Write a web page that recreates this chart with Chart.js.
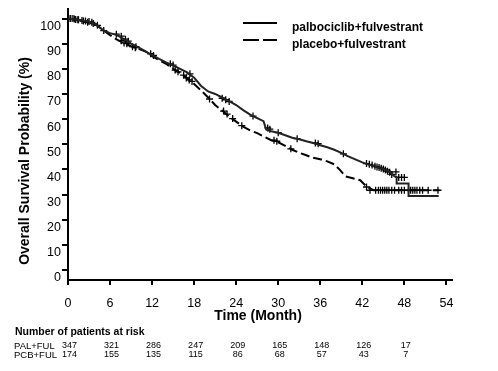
<!DOCTYPE html>
<html><head><meta charset="utf-8">
<script src="https://cdn.jsdelivr.net/npm/chart.js@4"></script>
<style>html,body{margin:0;padding:0;background:#fff}canvas{display:block}</style>
</head><body>
<canvas id="c" width="498" height="371"></canvas>
<script>
const seriesNames = ['palbociclib+fulvestrant', 'placebo+fulvestrant'];
const xTickValues = [0, 6, 12, 18, 24, 30, 36, 42, 48, 54];
const yTickValues = [0, 10, 20, 30, 40, 50, 60, 70, 80, 90, 100];

const palMonths = [0,1,2,3,4,5,6,7,8,9,10,11,12,13,14,15,16,17,18,19,20,21,22,23,24,25,26,27,27.9,28.3,29,30,31,32,33,34,35,36,37,38,39,40,41,42,43,44,45,46,46.6,46.9,46.9,48.6,48.6,52.9];
const palSurv = [100,99.6,99.2,98.8,97.6,95.4,94.2,93.4,91.8,90,88.6,87,85.5,84,82.6,81.4,80,78.6,76.5,73.2,71,70,68.6,67.2,65.6,63.6,61.8,60.4,59.2,55.8,55.2,54.6,53.6,52.6,52,51.2,50.5,49.6,48.8,47.8,46.6,45.2,44,42.8,41.8,41,40.2,38.8,37.2,37,34.4,34.4,29.4,29.4];

const pcbMonths = [0,1,2,3,4,5,6,7,8,9,10,11,12,13,14,15,16,17,18,19,20,21,22,23,24,25,26,27,28,29,30,31,32,33,34,35,36,37,38,38.8,39.6,40.5,41.7,42.6,43.6,53];
const pcbSurv = [100,99.5,99,98.3,97.5,95.5,93.4,91.6,90.2,89,88,87,85,83.5,82,80,78.4,76.2,74,71.4,68.6,65.6,63.4,61,59,57,55.5,54.4,53,51.6,50.8,49.4,47.8,46.6,45.6,44.6,44,43.2,42,39.8,37.2,36.6,35.7,33.2,31.7,31.7];

const palCensorMonths = [0.3,0.7,1.1,1.5,2.0,2.5,3.0,3.4,4.2,5.1,6.9,7.6,8.2,8.6,9.7,11.8,12.2,14.6,15.0,17.4,22.0,22.5,23.0,26.4,28.5,28.8,30.0,32.7,35.3,35.7,39.3,42.6,43.0,43.4,43.8,44.1,44.4,44.7,45.0,45.3,45.6,45.9,46.2,46.8,47.2,47.6,48.0];
const palCensorSurv = [100,100,99.6,99.5,99.2,99,98.8,98.5,97.3,95.2,93.8,93,91.8,91,88.8,86,85.3,82,81.5,78,68.3,67.7,67,61.2,56.5,56,54.6,52.2,50.5,50.2,46.2,42.3,42,41.7,41.2,41,40.8,40.5,40.2,39.8,39.3,38.9,38,39,36.8,36.8,36.8];

const pcbCensorMonths = [0.4,0.9,1.4,2.2,2.8,3.6,7.6,8.0,8.4,9.2,9.6,15.3,15.7,16.5,16.9,17.3,17.7,20.2,22.2,22.7,23.5,24.8,29.4,29.8,31.8,42.6,43.1,43.9,44.3,44.6,44.9,45.2,45.5,45.8,46.2,46.6,47.2,47.6,48.0,48.6,48.9,49.2,49.5,49.8,50.2,50.6,51.4,52.8];
const pcbCensorSurv = [100,99.8,99.5,99,98.5,98,91.2,90.3,90,88.8,88.4,79.5,78.8,77.5,76.4,75.6,75,68,63.2,62,60.2,57.4,51.6,51.2,48.2,33,31.7,31.7,31.7,31.7,31.7,31.7,31.7,31.7,31.7,31.7,31.7,31.7,31.7,31.7,31.7,31.7,31.7,31.7,31.7,31.7,31.7,31.7];

const riskMonths = [0, 6, 12, 18, 24, 30, 36, 42, 48];
const palRisk = [347, 321, 286, 247, 209, 165, 148, 126, 17];
const pcbRisk = [174, 155, 135, 115, 86, 68, 57, 43, 7];
const riskLabels = ['PAL+FUL', 'PCB+FUL'];

const zip = (xs, ys) => xs.map((x, i) => ({x: x, y: ys[i]}));
const FONT = 'Arial, "Liberation Sans", sans-serif';

const extras = {
  id: 'extras',
  afterDraw(chart) {
    const ctx = chart.ctx;
    const xs = chart.scales.x;
    ctx.save();
    ctx.fillStyle = '#000';
    // y title
    ctx.save();
    ctx.translate(25, 161);
    ctx.rotate(-Math.PI / 2);
    ctx.font = 'bold 14px ' + FONT;
    ctx.textAlign = 'center';
    ctx.textBaseline = 'middle';
    ctx.fillText('Overall Survival Probability (%)', 0, 0);
    ctx.restore();
    // x title
    ctx.font = 'bold 14px ' + FONT;
    ctx.textAlign = 'center';
    ctx.textBaseline = 'middle';
    ctx.fillText('Time (Month)', 258, 316);
    // legend
    ctx.strokeStyle = '#000';
    ctx.lineWidth = 2;
    ctx.beginPath(); ctx.moveTo(243, 23); ctx.lineTo(277, 23); ctx.stroke();
    ctx.setLineDash([16, 4]);
    ctx.beginPath(); ctx.moveTo(243, 40); ctx.lineTo(277, 40); ctx.stroke();
    ctx.setLineDash([]);
    ctx.font = 'bold 12px ' + FONT;
    ctx.textAlign = 'left';
    ctx.fillText(seriesNames[0], 292, 28);
    ctx.fillText(seriesNames[1], 292, 45);
    // risk table
    ctx.font = 'bold 10.5px ' + FONT;
    ctx.fillText('Number of patients at risk', 15, 332);
    ctx.font = '9.5px ' + FONT;
    ctx.fillText(riskLabels[0], 14, 346);
    ctx.fillText(riskLabels[1], 14, 355);
    ctx.font = '9px ' + FONT;
    ctx.textAlign = 'center';
    riskMonths.forEach((m, i) => {
      const px = xs.getPixelForValue(m);
      ctx.fillText(String(palRisk[i]), px + 1.5, 345.5);
      ctx.fillText(String(pcbRisk[i]), px + 1.5, 355);
    });
    ctx.restore();
  }
};

new Chart(document.getElementById('c'), {
  type: 'scatter',
  data: {
    datasets: [
      {label: seriesNames[0], data: zip(palMonths, palSurv), showLine: true, borderColor: '#222', borderWidth: 2, pointRadius: 0, fill: false, tension: 0},
      {label: seriesNames[1], data: zip(pcbMonths, pcbSurv), showLine: true, borderColor: '#000', borderWidth: 2, borderDash: [9, 4], pointRadius: 0, fill: false, tension: 0},
      {label: 'censor1', data: zip(palCensorMonths, palCensorSurv), showLine: false, pointStyle: 'cross', pointRadius: 3.5, borderColor: '#000', borderWidth: 1.3, backgroundColor: '#000'},
      {label: 'censor2', data: zip(pcbCensorMonths, pcbCensorSurv), showLine: false, pointStyle: 'cross', pointRadius: 3.5, borderColor: '#000', borderWidth: 1.3, backgroundColor: '#000'}
    ]
  },
  options: {
    responsive: false,
    animation: false,
    devicePixelRatio: 1,
    layout: {padding: {top: 8, right: 46, left: 0, bottom: 0}},
    plugins: {legend: {display: false}, tooltip: {enabled: false}},
    scales: {
      x: {
        type: 'linear', position: 'bottom', min: 0, max: 54.8,
        afterBuildTicks: s => { s.ticks = xTickValues.map(v => ({value: v})); },
        afterFit: s => { s.height = 91; },
        ticks: {font: {size: 12.5, family: FONT}, color: '#000', padding: 11, maxRotation: 0, autoSkip: false},
        grid: {drawOnChartArea: false, drawTicks: true, tickLength: 5, color: '#000', lineWidth: 2},
        border: {display: true, color: '#000', width: 2}
      },
      y: {
        type: 'linear', min: -4, max: 104,
        afterBuildTicks: s => { s.ticks = yTickValues.map(v => ({value: v})); },
        afterFit: s => { s.width = 68; },
        ticks: {font: {size: 12.5, family: FONT}, color: '#000', padding: 1, labelOffset: 8, autoSkip: false},
        grid: {drawOnChartArea: false, drawTicks: true, tickLength: 6, color: '#000', lineWidth: 2},
        border: {display: true, color: '#000', width: 2}
      }
    }
  },
  plugins: [extras]
});
</script>
</body></html>
